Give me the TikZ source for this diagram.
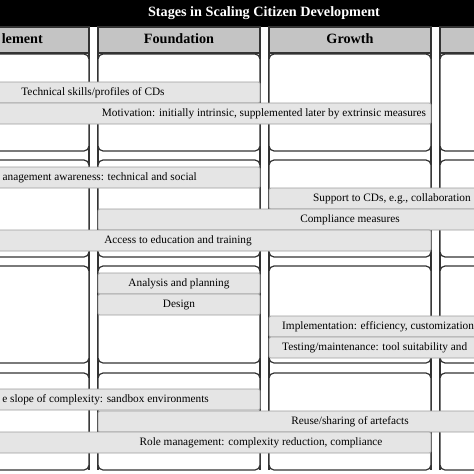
\documentclass[tikz,border=0pt]{standalone}
\usepackage{fontspec}
\setmainfont{Liberation Serif}
\usepackage{xcolor}
\usepackage{tikz}

\begin{document}
\begin{tikzpicture}[
    x=1pt, y=-1pt,
    colline/.style={draw=black!80, line width=1.2pt},
    colhead/.style={draw=black!80, line width=1.2pt, fill=black!23},
    rowbox/.style={draw=black!80, line width=1.2pt, fill=white, rounded corners=5pt},
    bar/.style={draw=black!38, line width=0.7pt, fill=black!10, rounded corners=1.5pt},
    bartxt/.style={font=\fontsize{11.3}{13}\selectfont, inner sep=0pt, text height=7.5pt, text depth=2.5pt},
    headtxt/.style={font=\fontsize{14.2}{16}\selectfont\bfseries, inner sep=0pt, text height=9.5pt, text depth=3pt}
]
    \useasboundingbox (0,0) rectangle (474,474);
    \clip (0,0) rectangle (474,474);
    \fill[black] (-10,-10) rectangle (484,27);
    \node [headtxt, text=white] (title) at (264,13.5) {Stages in Scaling Citizen Development};

    % columns
    \foreach \x in {-73,98,269,440} {
        \draw [colline] (\x,27) -- (\x,470) (\x+162,27) -- (\x+162,470);
        \draw [colhead] (\x,27) rectangle (\x+162,53);
        \foreach \y in {54,160,266,373}
            \draw [rowbox] (\x,\y) rectangle (\x+162,\y+97);
    }
    \node [headtxt, anchor=east] (h1) at (43,40) {lement};
    \node [headtxt] (h2) at (179,40) {Foundation};
    \node [headtxt] (h3) at (350,40) {Growth};

    % bars
    \foreach \xa/\xb/\ya in {-73/260/82, -73/431/103, -73/260/167, 269/602/188,
        98/602/209, -73/431/230, 98/260/273, 98/260/294, 269/602/316,
        269/602/337, -73/260/389, 98/602/411, -73/431/432}
        \draw [bar] (\xa,\ya) rectangle (\xb,\ya+21);

    \node [bartxt] (t1) at (93,92.5) {Technical skills/profiles of CDs};
    \node [bartxt] (t2) at (264,113.5) {Motivation: initially intrinsic, supplemented later by extrinsic measures};
    \node [bartxt, anchor=east] (t3) at (197,177.5) {anagement awareness: technical and social};
    \node [bartxt, anchor=west] (t4) at (313,198.5) {Support to CDs, e.g., collaboration};
    \node [bartxt] (t5) at (350,219.5) {Compliance measures};
    \node [bartxt] (t6) at (178,240.5) {Access to education and training};
    \node [bartxt] (t7) at (179,283.5) {Analysis and planning};
    \node [bartxt] (t8) at (179,304.5) {Design};
    \node [bartxt, anchor=west] (t9) at (282,326.5) {Implementation: efficiency, customization};
    \node [bartxt, anchor=west] (t10) at (282,347.5) {Testing/maintenance: tool suitability and};
    \node [bartxt, anchor=east] (t11) at (209,399.5) {e slope of complexity: sandbox environments};
    \node [bartxt] (t12) at (350,421.5) {Reuse/sharing of artefacts};
    \node [bartxt] (t13) at (261,442.5) {Role management: complexity reduction, compliance};
\end{tikzpicture}
\end{document}
